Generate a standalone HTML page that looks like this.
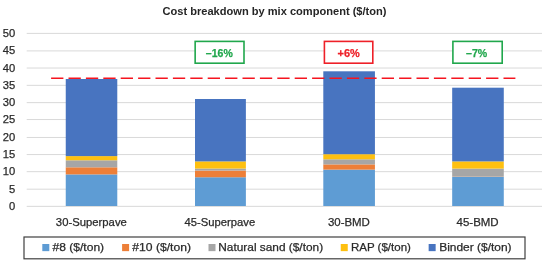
<!DOCTYPE html><html><head><meta charset="utf-8"><title>Cost breakdown</title>
<style>html,body{margin:0;padding:0;background:#fff}svg{display:block}text{font-family:"Liberation Sans",sans-serif}</style></head><body>
<svg width="550" height="262" viewBox="0 0 550 262">
<rect width="550" height="262" fill="#fff"/>
<line x1="26.7" x2="542" y1="206.35" y2="206.35" stroke="#D9D9D9" stroke-width="1"/>
<line x1="26.7" x2="542" y1="189.19" y2="189.19" stroke="#D9D9D9" stroke-width="1"/>
<line x1="26.7" x2="542" y1="171.68" y2="171.68" stroke="#D9D9D9" stroke-width="1"/>
<line x1="26.7" x2="542" y1="154.57" y2="154.57" stroke="#D9D9D9" stroke-width="1"/>
<line x1="26.7" x2="542" y1="137.46" y2="137.46" stroke="#D9D9D9" stroke-width="1"/>
<line x1="26.7" x2="542" y1="119.55" y2="119.55" stroke="#D9D9D9" stroke-width="1"/>
<line x1="26.7" x2="542" y1="102.64" y2="102.64" stroke="#D9D9D9" stroke-width="1"/>
<line x1="26.7" x2="542" y1="85.33" y2="85.33" stroke="#D9D9D9" stroke-width="1"/>
<line x1="26.7" x2="542" y1="68.02" y2="68.02" stroke="#D9D9D9" stroke-width="1"/>
<line x1="26.7" x2="542" y1="50.91" y2="50.91" stroke="#D9D9D9" stroke-width="1"/>
<line x1="26.7" x2="542" y1="33.40" y2="33.40" stroke="#D9D9D9" stroke-width="1"/>
<rect x="65.75" y="174.40" width="51.53" height="31.60" fill="#5E9CD4"/>
<rect x="65.75" y="167.30" width="51.53" height="7.10" fill="#ED7F38"/>
<rect x="65.75" y="160.30" width="51.53" height="7.00" fill="#A6A6A6"/>
<rect x="65.75" y="156.10" width="51.53" height="4.20" fill="#FEC010"/>
<rect x="65.75" y="79.00" width="51.53" height="77.10" fill="#4874C0"/>
<rect x="195.00" y="177.25" width="50.88" height="28.75" fill="#5E9CD4"/>
<rect x="195.00" y="170.55" width="50.88" height="6.70" fill="#ED7F38"/>
<rect x="195.00" y="168.55" width="50.88" height="2.00" fill="#A6A6A6"/>
<rect x="195.00" y="161.40" width="50.88" height="7.15" fill="#FEC010"/>
<rect x="195.00" y="99.00" width="50.88" height="62.40" fill="#4874C0"/>
<rect x="323.30" y="169.60" width="51.63" height="36.40" fill="#5E9CD4"/>
<rect x="323.30" y="164.40" width="51.63" height="5.20" fill="#ED7F38"/>
<rect x="323.30" y="159.30" width="51.63" height="5.10" fill="#A6A6A6"/>
<rect x="323.30" y="154.20" width="51.63" height="5.10" fill="#FEC010"/>
<rect x="323.30" y="71.30" width="51.63" height="82.90" fill="#4874C0"/>
<rect x="452.18" y="176.95" width="51.60" height="29.05" fill="#5E9CD4"/>
<rect x="452.18" y="176.65" width="51.60" height="0.30" fill="#ED7F38"/>
<rect x="452.18" y="168.60" width="51.60" height="8.05" fill="#A6A6A6"/>
<rect x="452.18" y="161.40" width="51.60" height="7.20" fill="#FEC010"/>
<rect x="452.18" y="87.70" width="51.60" height="73.70" fill="#4874C0"/>
<line x1="51.1" x2="515.4" y1="78.25" y2="78.25" stroke="#F5141F" stroke-width="1.45" stroke-dasharray="12.3 5.1"/>
<text x="15.25" y="210.00" font-size="11.2" fill="#2a2a2a" stroke="#2a2a2a" stroke-width="0.25" text-anchor="end">0</text>
<text x="15.25" y="192.69" font-size="11.2" fill="#2a2a2a" stroke="#2a2a2a" stroke-width="0.25" text-anchor="end">5</text>
<text x="15.25" y="175.38" font-size="11.2" fill="#2a2a2a" stroke="#2a2a2a" stroke-width="0.25" text-anchor="end">10</text>
<text x="15.25" y="158.07" font-size="11.2" fill="#2a2a2a" stroke="#2a2a2a" stroke-width="0.25" text-anchor="end">15</text>
<text x="15.25" y="140.76" font-size="11.2" fill="#2a2a2a" stroke="#2a2a2a" stroke-width="0.25" text-anchor="end">20</text>
<text x="15.25" y="123.45" font-size="11.2" fill="#2a2a2a" stroke="#2a2a2a" stroke-width="0.25" text-anchor="end">25</text>
<text x="15.25" y="106.14" font-size="11.2" fill="#2a2a2a" stroke="#2a2a2a" stroke-width="0.25" text-anchor="end">30</text>
<text x="15.25" y="88.83" font-size="11.2" fill="#2a2a2a" stroke="#2a2a2a" stroke-width="0.25" text-anchor="end">35</text>
<text x="15.25" y="71.52" font-size="11.2" fill="#2a2a2a" stroke="#2a2a2a" stroke-width="0.25" text-anchor="end">40</text>
<text x="15.25" y="54.21" font-size="11.2" fill="#2a2a2a" stroke="#2a2a2a" stroke-width="0.25" text-anchor="end">45</text>
<text x="15.25" y="36.90" font-size="11.2" fill="#2a2a2a" stroke="#2a2a2a" stroke-width="0.25" text-anchor="end">50</text>
<text x="91.35" y="226.1" font-size="11.2" fill="#2a2a2a" stroke="#2a2a2a" stroke-width="0.25" text-anchor="middle" textLength="71.0" lengthAdjust="spacingAndGlyphs">30-Superpave</text>
<text x="219.90" y="226.1" font-size="11.2" fill="#2a2a2a" stroke="#2a2a2a" stroke-width="0.25" text-anchor="middle" textLength="70.6" lengthAdjust="spacingAndGlyphs">45-Superpave</text>
<text x="348.90" y="226.1" font-size="11.2" fill="#2a2a2a" stroke="#2a2a2a" stroke-width="0.25" text-anchor="middle" textLength="42.0" lengthAdjust="spacingAndGlyphs">30-BMD</text>
<text x="477.60" y="226.1" font-size="11.2" fill="#2a2a2a" stroke="#2a2a2a" stroke-width="0.25" text-anchor="middle" textLength="42.1" lengthAdjust="spacingAndGlyphs">45-BMD</text>
<text x="162.5" y="15.2" font-size="10.6" font-weight="bold" fill="#262626" textLength="224" lengthAdjust="spacingAndGlyphs">Cost breakdown by mix component ($/ton)</text>
<rect x="195.15" y="41.4" width="48.85" height="21.8" fill="#fff" stroke="#20A74C" stroke-width="1.6"/>
<text x="219.3" y="56.9" font-size="11.4" font-weight="bold" fill="#20A74C" stroke="#20A74C" stroke-width="0.25" text-anchor="middle" textLength="26.9" lengthAdjust="spacingAndGlyphs">–16%</text>
<rect x="324.4" y="41.4" width="48.40" height="21.8" fill="#fff" stroke="#EE2028" stroke-width="1.6"/>
<text x="348.65" y="56.9" font-size="11.4" font-weight="bold" fill="#EE2028" stroke="#EE2028" stroke-width="0.25" text-anchor="middle" textLength="22.3" lengthAdjust="spacingAndGlyphs">+6%</text>
<rect x="452.9" y="41.4" width="49.30" height="21.8" fill="#fff" stroke="#20A74C" stroke-width="1.6"/>
<text x="476.7" y="56.9" font-size="11.4" font-weight="bold" fill="#20A74C" stroke="#20A74C" stroke-width="0.25" text-anchor="middle" textLength="21.2" lengthAdjust="spacingAndGlyphs">–7%</text>
<rect x="24" y="237" width="501" height="21.8" fill="#fff" stroke="#404040" stroke-width="1.2"/>
<rect x="42.30" y="244.0" width="7.0" height="7.15" fill="#5E9CD4"/>
<text x="52.5" y="251.3" font-size="11.2" fill="#2a2a2a" stroke="#2a2a2a" stroke-width="0.25" textLength="51.6" lengthAdjust="spacingAndGlyphs">#8 ($/ton)</text>
<rect x="122.10" y="244.0" width="7.0" height="7.15" fill="#ED7F38"/>
<text x="132.3" y="251.3" font-size="11.2" fill="#2a2a2a" stroke="#2a2a2a" stroke-width="0.25" textLength="58.7" lengthAdjust="spacingAndGlyphs">#10 ($/ton)</text>
<rect x="208.50" y="244.0" width="7.0" height="7.15" fill="#A6A6A6"/>
<text x="218.3" y="251.3" font-size="11.2" fill="#2a2a2a" stroke="#2a2a2a" stroke-width="0.25" textLength="104.8" lengthAdjust="spacingAndGlyphs">Natural sand ($/ton)</text>
<rect x="340.75" y="244.0" width="7.0" height="7.15" fill="#FEC010"/>
<text x="350.9" y="251.3" font-size="11.2" fill="#2a2a2a" stroke="#2a2a2a" stroke-width="0.25" textLength="60.0" lengthAdjust="spacingAndGlyphs">RAP ($/ton)</text>
<rect x="428.65" y="244.0" width="7.0" height="7.15" fill="#4874C0"/>
<text x="439.2" y="251.3" font-size="11.2" fill="#2a2a2a" stroke="#2a2a2a" stroke-width="0.25" textLength="72.4" lengthAdjust="spacingAndGlyphs">Binder ($/ton)</text>
</svg></body></html>
